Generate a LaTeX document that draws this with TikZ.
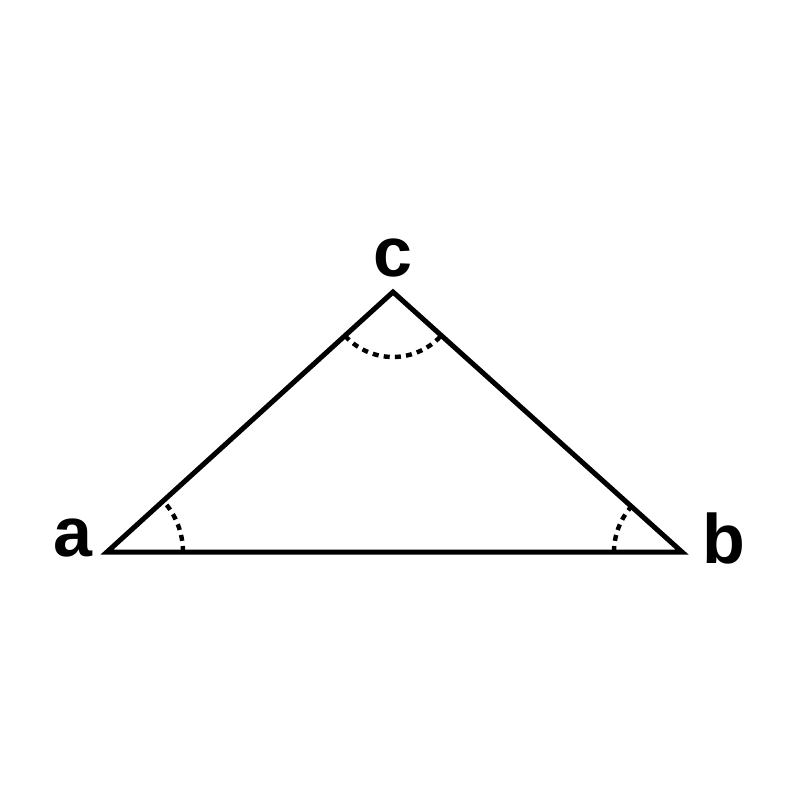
\documentclass[tikz,border=0pt]{standalone}
\usepackage{fontspec}
\setmainfont{Liberation Sans}
\begin{document}
\begin{tikzpicture}[x=0.5pt,y=-0.5pt,
  side/.style={line width=2.5pt,line join=miter},
  anglemark/.style={line width=2.2pt,dash pattern=on 3pt off 2.6pt},
  vlabel/.style={font=\bfseries\fontsize{35}{40}\selectfont,inner sep=0pt}]
\useasboundingbox (0,0) rectangle (800,800);
\coordinate (A) at (107,552);
\coordinate (B) at (682,552);
\coordinate (C) at (393,292);
\draw[side] (A) -- (B) -- (C) -- cycle;
\draw[anglemark] ([shift={(76,0)}]A) arc[start angle=0,end angle=42.3,radius=38pt];
\draw[anglemark] ([shift={(-68,0)}]B) arc[start angle=180,end angle=138,radius=34pt];
\draw[anglemark] (C) ++(222.3:32.5pt) arc[start angle=222.3,end angle=318,radius=32.5pt];
\node[vlabel] (la) at (73,538) {a};
\node[vlabel] (lb) at (724,538) {b};
\node[vlabel] (lc) at (393,258) {c};
\end{tikzpicture}
\end{document}
